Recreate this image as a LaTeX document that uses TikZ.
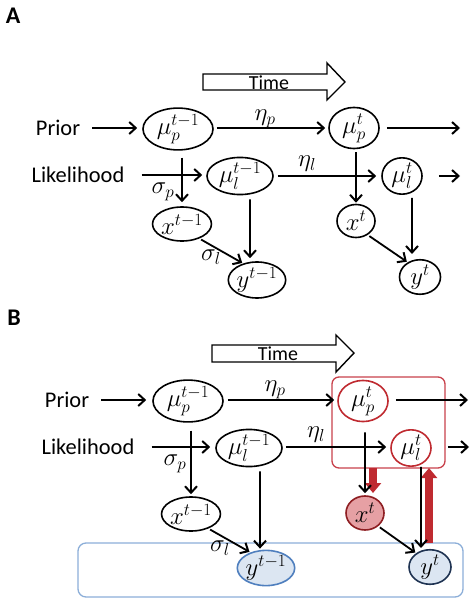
\documentclass[tikz,border=0pt]{standalone}
\usepackage{fontspec}
\setmainfont{Carlito}
\usetikzlibrary{arrows.meta,shapes.geometric,calc}
\definecolor{redline}{HTML}{C8414B}
\definecolor{redarrow}{HTML}{BF2A30}
\definecolor{xfill}{HTML}{E6A0A4}
\definecolor{xline}{HTML}{8E1E22}
\definecolor{bluebox}{HTML}{8CAED8}
\definecolor{bluefill}{HTML}{DCE6F2}
\definecolor{blueline}{HTML}{4F7FBE}
\definecolor{navyline}{HTML}{1F3352}
\begin{document}
\begin{tikzpicture}[x=1bp,y=-1bp,
  font=\fontsize{22.5}{26}\selectfont,
  arr/.style={line width=1.8bp,-{Straight Barb[length=6.5bp,width=12bp,line width=2bp]}},
  el/.style={ellipse,draw,line width=1.6bp,inner sep=0pt,font=\fontsize{24}{28}\selectfont},
  lbl/.style={inner sep=0pt,font=\fontsize{23}{27}\selectfont},
  paneltag/.style={inner sep=0pt,font=\fontsize{24}{28}\selectfont\bfseries},
  timearrow/.style={draw,fill=white,line width=1.4bp,line join=miter},
  timetext/.style={inner sep=0pt,font=\fontsize{20}{24}\selectfont},
  redbox/.style={draw=redline,line width=1.3bp,rounded corners=7bp},
  bluebx/.style={draw=bluebox,line width=1.3bp,rounded corners=8bp},
  redthick/.style={draw=redarrow,line width=8bp,-{Triangle[length=10bp,width=16bp]}},
]
\useasboundingbox (0,0) rectangle (474,602);

%% ---------------- Panel A ----------------
\node[paneltag] (tagA) at (13,16) {A};
\draw[timearrow] (203,74) -- (327,74) -- (327,63) -- (345,82) -- (327,100) -- (327,90) -- (203,90) -- cycle;
\node[timetext] (timeA) at (269,83) {Time};

\node[inner sep=0pt] (priorA) at (58,128) {Prior};
\node[inner sep=0pt] (likeA) at (78,175) {Likelihood};

\node[el,minimum width=70bp,minimum height=40bp] (mup1A) at (178,129) {$\mu_p^{t-1}$};
\node[el,minimum width=50bp,minimum height=36bp] (mupA) at (354,128) {$\mu_p^{t}$};
\node[el,minimum width=66bp,minimum height=36bp] (ml1A) at (240,176) {$\mu_l^{t-1}$};
\node[el,minimum width=40bp,minimum height=33bp] (mlA) at (402,176) {$\mu_l^{t}$};
\node[el,minimum width=57bp,minimum height=34bp] (x1A) at (182,224) {$x^{t-1}$};
\node[el,minimum width=56bp,minimum height=36bp] (y1A) at (257,280) {$y^{t-1}$};
\node[el,minimum width=38bp,minimum height=33bp] (xA) at (356,221) {$x^{t}$};
\node[el,minimum width=41bp,minimum height=32bp] (yA) at (420,277) {$y^{t}$};

\coordinate (endA1) at (460,128);
\coordinate (endA2) at (460,176);

\draw[arr,shorten <=12bp,shorten >=5bp] (priorA.east) -- (mup1A.west |- priorA.east);
\draw[arr,shorten <=3bp,shorten >=3bp] (mup1A.east |- endA1) -- (mupA.west |- endA1);
\draw[arr,shorten <=7bp] (mupA.east |- endA1) -- (endA1);
\draw[arr,shorten <=17bp,shorten >=4bp] (likeA.east) -- (ml1A.west |- likeA.east);
\draw[arr,shorten <=4bp,shorten >=5bp] (ml1A.east) -- (mlA.west);
\draw[arr,shorten <=16bp] (mlA.east) -- (endA2);

\draw[arr,shorten <=7bp,shorten >=4bp] (mup1A.south -| x1A.north) -- (x1A.north);
\draw[arr,shorten <=4bp,shorten >=3bp] ([xshift=10bp]ml1A.south) -- ([xshift=-7bp]y1A.north);
\draw[arr,shorten <=2bp,shorten >=1bp] (x1A.-40) -- (y1A.130);
\draw[arr,shorten <=3bp,shorten >=1bp] (mupA.south -| xA.north) -- (xA.north);
\draw[arr,shorten <=3bp,shorten >=5bp] ([xshift=10bp]mlA.south) -- ([xshift=-8bp]yA.north);
\draw[arr,shorten <=2bp,shorten >=1bp] (xA.-50) -- (yA.130);

\node[lbl] (etapA) at (265,119) {$\eta_p$};
\node[lbl] (etalA) at (307,164) {$\eta_l$};
\node[lbl] (sigpA) at (163,192) {$\sigma_p$};
\node[lbl] (siglA) at (211,257) {$\sigma_l$};

%% ---------------- Panel B ----------------
\node[paneltag] (tagB) at (14,318) {B};
\draw[timearrow] (212,345) -- (336,345) -- (336,335) -- (354,353) -- (336,372) -- (336,362) -- (212,362) -- cycle;
\node[timetext] (timeB) at (278,354) {Time};

\draw[bluebx] (78,543) rectangle (463,597);
\draw[redbox] (332,377) rectangle (445,468);

\node[inner sep=0pt] (priorB) at (67,400) {Prior};
\node[inner sep=0pt] (likeB) at (88,447) {Likelihood};

\node[el,minimum width=70bp,minimum height=37bp] (mup1B) at (188,401) {$\mu_p^{t-1}$};
\node[el,draw=redarrow,minimum width=50bp,minimum height=34bp] (mupB) at (363,401) {$\mu_p^{t}$};
\node[el,minimum width=66bp,minimum height=35bp] (ml1B) at (249,448) {$\mu_l^{t-1}$};
\node[el,draw=redarrow,minimum width=40bp,minimum height=31bp] (mlB) at (411,448) {$\mu_l^{t}$};
\node[el,minimum width=57bp,minimum height=34bp] (x1B) at (191,514) {$x^{t-1}$};
\node[el,draw=blueline,fill=bluefill,minimum width=56bp,minimum height=34bp] (y1B) at (266,568) {$y^{t-1}$};
\node[el,draw=xline,fill=xfill,minimum width=38bp,minimum height=34bp] (xB) at (365,513) {$x^{t}$};
\node[el,draw=navyline,fill=bluefill,minimum width=42bp,minimum height=32bp] (yB) at (430,567) {$y^{t}$};

\coordinate (endB1) at (468,400);
\coordinate (endB2) at (469,447);
\coordinate (redDownS) at (373,468);
\coordinate (redDownE) at (373,493);
\coordinate (redUpS) at (429,543);
\coordinate (redUpE) at (429,468);

\draw[redthick] (redDownS) -- (redDownE);
\draw[redthick] (redUpS) -- (redUpE);

\draw[arr,shorten <=12bp,shorten >=6bp] (priorB.east) -- (mup1B.west |- priorB.east);
\draw[arr,shorten <=4bp,shorten >=3bp] (mup1B.east |- endB1) -- (mupB.west |- endB1);
\draw[arr,shorten <=7bp] (mupB.east |- endB1) -- (endB1);
\draw[arr,shorten <=17bp,shorten >=5bp] (likeB.east) -- (ml1B.west |- likeB.east);
\draw[arr,shorten <=3bp,shorten >=4bp] (ml1B.east |- endB2) -- (mlB.west |- endB2);
\draw[arr,shorten <=16bp] (mlB.east |- endB2) -- (endB2);

\draw[arr,shorten <=8bp,shorten >=2bp] (mup1B.south -| x1B.north) -- (x1B.north);
\draw[arr,shorten <=4bp,shorten >=1bp] ([xshift=11bp]ml1B.south) -- ([xshift=-6bp]y1B.north);
\draw[arr,shorten <=2bp,shorten >=1bp] (x1B.-40) -- (y1B.135);
\draw[arr,shorten <=10bp,shorten >=2bp] ([xshift=2bp]mupB.south) -- (xB.north);
\draw[arr,shorten <=0bp,shorten >=1bp] ([xshift=10bp]mlB.south) -- ([xshift=-9bp]yB.north);
\draw[arr,shorten <=2bp,shorten >=1bp] (xB.-45) -- (yB.135);

\node[lbl] (etapB) at (275,390) {$\eta_p$};
\node[lbl] (etalB) at (316,435) {$\eta_l$};
\node[lbl] (sigpB) at (175,464) {$\sigma_p$};
\node[lbl] (siglB) at (220,548) {$\sigma_l$};
\end{tikzpicture}
\end{document}
